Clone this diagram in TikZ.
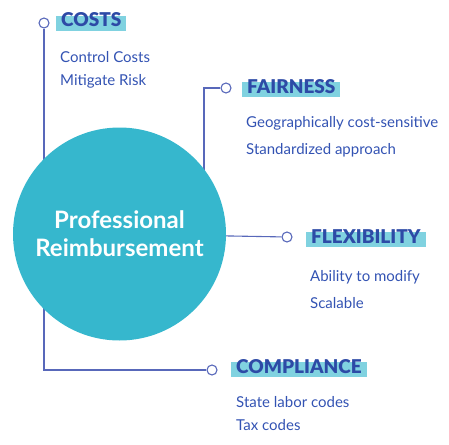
\documentclass[tikz,border=0pt]{standalone}
\usepackage{fontspec}
\setmainfont{Lato}
\newfontfamily\headfont{Lato Black}
\usetikzlibrary{backgrounds}
\definecolor{headblue}{HTML}{2D4AA6}
\definecolor{textblue}{HTML}{3353B3}
\definecolor{lineblue}{HTML}{5868BA}
\definecolor{hilite}{HTML}{80D2E0}
\definecolor{ballcyan}{HTML}{36B7CD}
\tikzset{
  marker/.style={circle,draw=lineblue,fill=white,line width=1.1pt,inner sep=0pt,minimum size=10pt},
  heading/.style={anchor=base west,fill=hilite,text=headblue,font=\headfont\fontsize{19}{19}\selectfont,
    text height=11pt,text depth=4pt,inner xsep=5pt,inner ysep=0pt},
  item/.style={anchor=base west,text=textblue,font=\fontsize{15}{15}\selectfont,inner sep=0pt},
  link/.style={draw=lineblue,line width=1.1pt}
}
\begin{document}
\begin{tikzpicture}[x=1pt,y=-1pt]
\useasboundingbox (0,0) rectangle (449,444);
% Centre circle
\node[circle,fill=ballcyan,minimum size=213pt,inner sep=0pt,text=white,align=center,
  font=\bfseries\fontsize{24}{28}\selectfont] (ball) at (119.5,234) {Professional\\Reimbursement};

% Markers
\node[marker] (mcosts) at (44,23) {};
\node[marker] (mfair) at (226,88) {};
\node[marker] (mflex) at (287,237) {};
\node[marker] (mcomp) at (212,370) {};
\coordinate (fairin) at (204,200);

% Connectors
\begin{scope}[on background layer]
  \draw[link] (mcosts) |- (mcomp);
  \draw[link] (mfair) -| (fairin);
  \draw[link] (ball) -- (mflex);
\end{scope}

% Headings
\node[heading] (costs) at (56,27) {COSTS};
\node[heading] (fair) at (242,93) {FAIRNESS};
\node[heading] (flex) at (306,243) {FLEXIBILITY};
\node[heading] (comp) at (231,373) {COMPLIANCE};

% Items
\foreach \t [count=\i] in {Control Costs,Mitigate Risk}
  \node[item] (costs\i) at (60,63+22*\i-22) {\t};
\foreach \t [count=\i] in {Geographically cost-sensitive,Standardized approach}
  \node[item] (fair\i) at (246,127+27*\i-27) {\t};
\foreach \t [count=\i] in {Ability to modify,Scalable}
  \node[item] (flex\i) at (310,281+27*\i-27) {\t};
\foreach \t [count=\i] in {State labor codes,Tax codes}
  \node[item] (comp\i) at (236,407+23*\i-23) {\t};
\end{tikzpicture}
\end{document}
